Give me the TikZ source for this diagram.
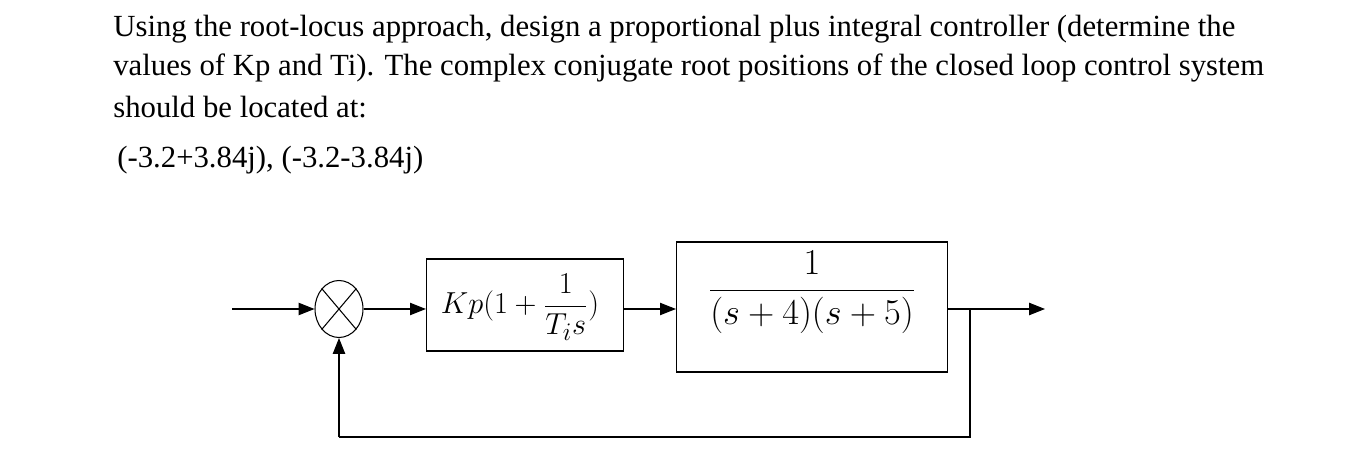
\documentclass[tikz,border=0pt]{standalone}
\usepackage{fontspec}
\setmainfont{Liberation Serif}
\usetikzlibrary{arrows.meta,shapes.geometric}
\begin{document}
\begin{tikzpicture}[x=0.02cm,y=-0.02cm,
  txt/.style={anchor=west,inner sep=0pt,font=\fontsize{17.5}{20}\selectfont},
  blk/.style={draw,line width=0.7pt,inner sep=0pt},
  ln/.style={line width=0.6pt},
  arr/.style={ln,-{Triangle[length=9pt,width=7pt]}}]
\useasboundingbox (0,0) rectangle (1352,452);
\node[txt] (l1) at (113,29) {Using the root-locus approach, design a proportional plus integral controller (determine the};
\node[txt] (l2) at (113,68) {values of Kp and Ti). The complex conjugate root positions of the closed loop control system};
\node[txt] (l3) at (113,107) {should be located at:};
\node[txt] (l4) at (117,160) {(-3.2+3.84j), (-3.2-3.84j)};
\node[draw,ln,ellipse,minimum width=0.96cm,minimum height=1.14cm,inner sep=0pt] (sum) at (339,309) {};
\draw[ln] (sum.north west) -- (sum.south east) (sum.north east) -- (sum.south west);
\node[blk,minimum width=3.94cm,minimum height=1.84cm] (b1) at (525,305) {};
\node[font=\fontsize{19}{22}\selectfont] (t1) at (520,307) {$Kp(1+\displaystyle\frac{1}{T_i s})$};
\node[blk,minimum width=5.42cm,minimum height=2.6cm] (b2) at (812,307) {};
\node[font=\fontsize{20}{24}\selectfont] (t2) at (812,292) {$\displaystyle\frac{1}{(s+4)(s+5)}$};
\coordinate (in) at (232,309);
\coordinate (out) at (1045,309);
\coordinate (tap) at (970,309);
\coordinate (fb) at (970,437);
\coordinate (fb2) at (339,437);
\draw[arr] (in) -- (sum.west);
\draw[arr] (sum.east) -- (b1.west |- sum.east);
\draw[arr] (b1.east |- sum.east) -- (b2.west |- sum.east);
\draw[arr] (b2.east |- sum.east) -- (out);
\draw[ln] (tap) -- (fb) -- (fb2);
\draw[arr] (fb2) -- (sum.south);
\end{tikzpicture}
\end{document}
